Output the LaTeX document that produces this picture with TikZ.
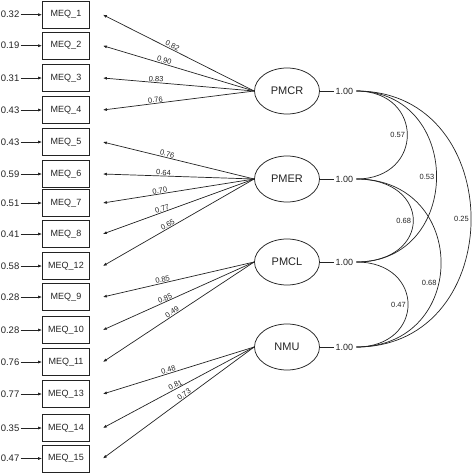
\documentclass[tikz,border=0pt]{standalone}
\usepackage{fontspec}
\setmainfont{Liberation Sans}
\usetikzlibrary{arrows.meta, positioning, calc, shapes.geometric}
\definecolor{mydark}{RGB}{35,35,35}
\tikzset{
  itembox/.style={rectangle, draw=mydark, minimum width=47pt, minimum height=27pt,
    font=\fontsize{9}{10}\selectfont, line width=0.75pt, inner sep=1pt, text=mydark},
  latent/.style={ellipse, draw=mydark, minimum width=65pt, minimum height=46pt,
    font=\fontsize{11}{12}\selectfont, line width=0.75pt, inner sep=1pt, text=mydark},
  errlabel/.style={font=\fontsize{9.5}{10}\selectfont, inner sep=1pt, text=mydark},
  loadlabel/.style={font=\fontsize{7.5}{8}\selectfont, inner sep=0.5pt, sloped, above, text=mydark},
  covlabel/.style={font=\fontsize{7.5}{8}\selectfont, inner sep=2pt, left, text=mydark},
  varlabel/.style={font=\fontsize{9}{10}\selectfont, inner sep=1pt, text=mydark},
  arrow/.style={-{Latex[length=4pt,width=3pt]}, line width=0.7pt, color=mydark},
  line/.style={line width=0.7pt, color=mydark}
}

\begin{document}
\begin{tikzpicture}[x=1pt,y=-1pt]
  \useasboundingbox (0,0) rectangle (474,474);
  % observed items with error variances
  \foreach \name/\yy/\err [count=\i] in {MEQ\_1/14.7/0.32, MEQ\_2/45.7/0.19,
      MEQ\_3/78/0.31, MEQ\_4/110/0.43, MEQ\_5/142/0.43, MEQ\_6/174/0.59,
      MEQ\_7/203/0.51, MEQ\_8/234/0.41, MEQ\_12/266/0.58, MEQ\_9/297/0.28,
      MEQ\_10/330/0.28, MEQ\_11/362/0.76, MEQ\_13/394/0.77, MEQ\_14/428/0.35,
      MEQ\_15/458.5/0.47} {
    \node[itembox] (m\i) at (66,\yy) {\name};
    \node[errlabel, anchor=east] (e\i) at (20.5,\yy) {\err};
    \draw[arrow] (e\i) -- (m\i);
    \coordinate (t\i) at ($(m\i.east)+(13,0)$);
  }
  % latent factors
  \node[latent] (PMCR) at (287,91) {PMCR};
  \node[latent] (PMER) at (287,179) {PMER};
  \node[latent] (PMCL) at (287,262) {PMCL};
  \node[latent] (NMU) at (287,347) {NMU};
  % factor loadings
  \foreach \f/\i/\val/\p in {PMCR/1/0.82/0.55, PMCR/2/0.90/0.6, PMCR/3/0.83/0.65,
      PMCR/4/0.76/0.65, PMER/5/0.76/0.58, PMER/6/0.64/0.6, PMER/7/0.70/0.62,
      PMER/8/0.77/0.6, PMER/9/0.65/0.56, PMCL/10/0.85/0.6, PMCL/11/0.85/0.58,
      PMCL/12/0.49/0.53, NMU/13/0.48/0.56, NMU/14/0.81/0.51, NMU/15/0.73/0.45}
    \draw[arrow] (\f.west) -- node[loadlabel, pos=\p] {\val} (t\i);
  % factor variances
  \foreach \f/\k in {PMCR/1, PMER/2, PMCL/3, NMU/4} {
    \node[varlabel] (v\k) at ($(\f.east)+(24.5,0)$) {1.00};
    \draw[line] (\f.east) -- (v\k.west);
    \coordinate (c\k) at ($(v\k.east)+(2,0)$);
  }
  % factor correlations
  \draw[line] (c1) .. controls +(68,0) and +(68,0) .. node[covlabel] {0.57} (c2);
  \draw[line] (c1) .. controls +(107,0) and +(107,0) .. node[covlabel] {0.53} (c3);
  \draw[line] (c1) .. controls +(153,0) and +(153,0) .. node[covlabel] {0.25} (c4);
  \draw[line] (c2) .. controls +(76,0) and +(76,0) .. node[covlabel] {0.68} (c3);
  \draw[line] (c2) .. controls +(113,0) and +(113,0) .. node[covlabel, pos=0.58] {0.68} (c4);
  \draw[line] (c3) .. controls +(69,0) and +(69,0) .. node[covlabel] {0.47} (c4);
\end{tikzpicture}
\end{document}
